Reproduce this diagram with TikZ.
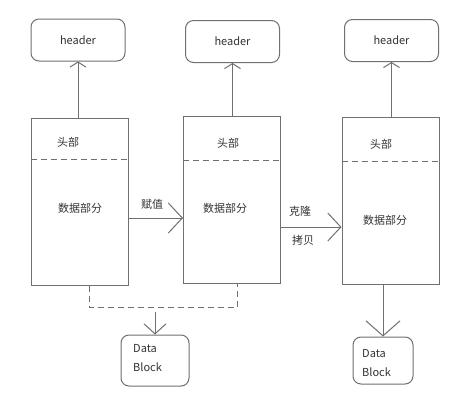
\documentclass[tikz,border=0pt]{standalone}
\usepackage{fontspec}
\setmainfont{Noto Sans CJK SC}
\usetikzlibrary{arrows.meta}
\definecolor{ln}{HTML}{707070}
\definecolor{tx}{HTML}{333333}
\tikzset{
  hdr/.style={draw=ln, line width=1pt, rounded corners=8pt, minimum width=94pt, minimum height=42pt, inner sep=0pt, text=tx, font=\fontsize{11}{13}\selectfont},
  objbox/.style={draw=ln, line width=1pt, minimum width=97pt, minimum height=167pt, inner sep=0pt},
  blk/.style={draw=ln, line width=1pt, rounded corners=8pt, inner sep=0pt},
  lbl/.style={text=tx, font=\fontsize{11}{13}\selectfont, inner sep=0pt},
  conn/.style={draw=ln, line width=1pt},
  divline/.style={draw=ln, line width=1pt, dash pattern=on 6pt off 4pt},
}
\begin{document}
\begin{tikzpicture}[x=1pt,y=-1pt]
\useasboundingbox[fill=white] (0,0) rectangle (474,402);
% header boxes
\node[hdr] (h1) at (78,40) {header};
\node[hdr] (h2) at (232.5,41.5) {header};
\node[hdr] (h3) at (391.5,40.5) {header};
% object boxes
\node[objbox] (b1) at (79.5,201.5) {};
\node[objbox] (b2) at (232,200) {};
\node[objbox] (b3) at (390.5,200.5) {};
% dashed dividers
\draw[divline] (b1.west |- 0,159) -- (b1.east |- 0,159);
\draw[divline] (b2.west |- 0,160) -- (b2.east |- 0,160);
\draw[divline] (b3.west |- 0,161) -- (b3.east |- 0,161);
% texts
\node[lbl] (t1a) at (68,142) {头部};
\node[lbl] (t2a) at (228,143) {头部};
\node[lbl] (t3a) at (381,144) {头部};
\node[lbl] (t1b) at (80,208) {数据部分};
\node[lbl] (t2b) at (225,208) {数据部分};
\node[lbl] (t3b) at (385,220) {数据部分};
% up arrows
\draw[conn, -{Straight Barb[length=5pt,width=16pt]}] (b1.north -| h1.south) -- (h1.south);
\draw[conn, -{Straight Barb[length=5pt,width=16pt]}] (b2.north -| h2.south) -- (h2.south);
\draw[conn, -{Straight Barb[length=5pt,width=16pt]}] (b3.north -| h3.south) -- (h3.south);
% horizontal arrows
\draw[conn, -{Straight Barb[length=14pt,width=30pt]}] (b1.east |- 0,218) -- (b2.west |- 0,218);
\node[lbl] (l1) at (152,204) {赋值};
\draw[conn, -{Straight Barb[length=13pt,width=28pt]}] (b2.east |- 0,227) -- (b3.west |- 0,227);
\node[lbl] (l2) at (300,211) {克隆};
\node[lbl] (l3) at (303,240) {拷贝};
% data blocks
\node[blk, minimum width=68pt, minimum height=51pt] (d1) at (155,360.5) {};
\node[lbl, anchor=west, align=left] (d1t) at (133,358.5) {Data\\[6pt]Block};
\node[blk, minimum width=60pt, minimum height=47pt] (d2) at (383,360.5) {};
\node[lbl, anchor=west, align=left] (d2t) at (362,363) {Data\\[6pt]Block};
% dashed link from b1 and b2 to data block 1
\coordinate (c1) at (89,307);
\coordinate (c2) at (237,307);
\draw[divline] (b1.south -| c1) -- (c1) -- (c2) -- (b2.south -| c2);
\coordinate (c3) at (155,312);
\draw[conn, -{Straight Barb[length=10pt,width=22pt]}] (c3) -- (d1.north);
% solid arrow from b3 to data block 2
\draw[conn, -{Straight Barb[length=15pt,width=34pt]}] (b3.south -| d2.north) -- (d2.north);
\end{tikzpicture}
\end{document}
